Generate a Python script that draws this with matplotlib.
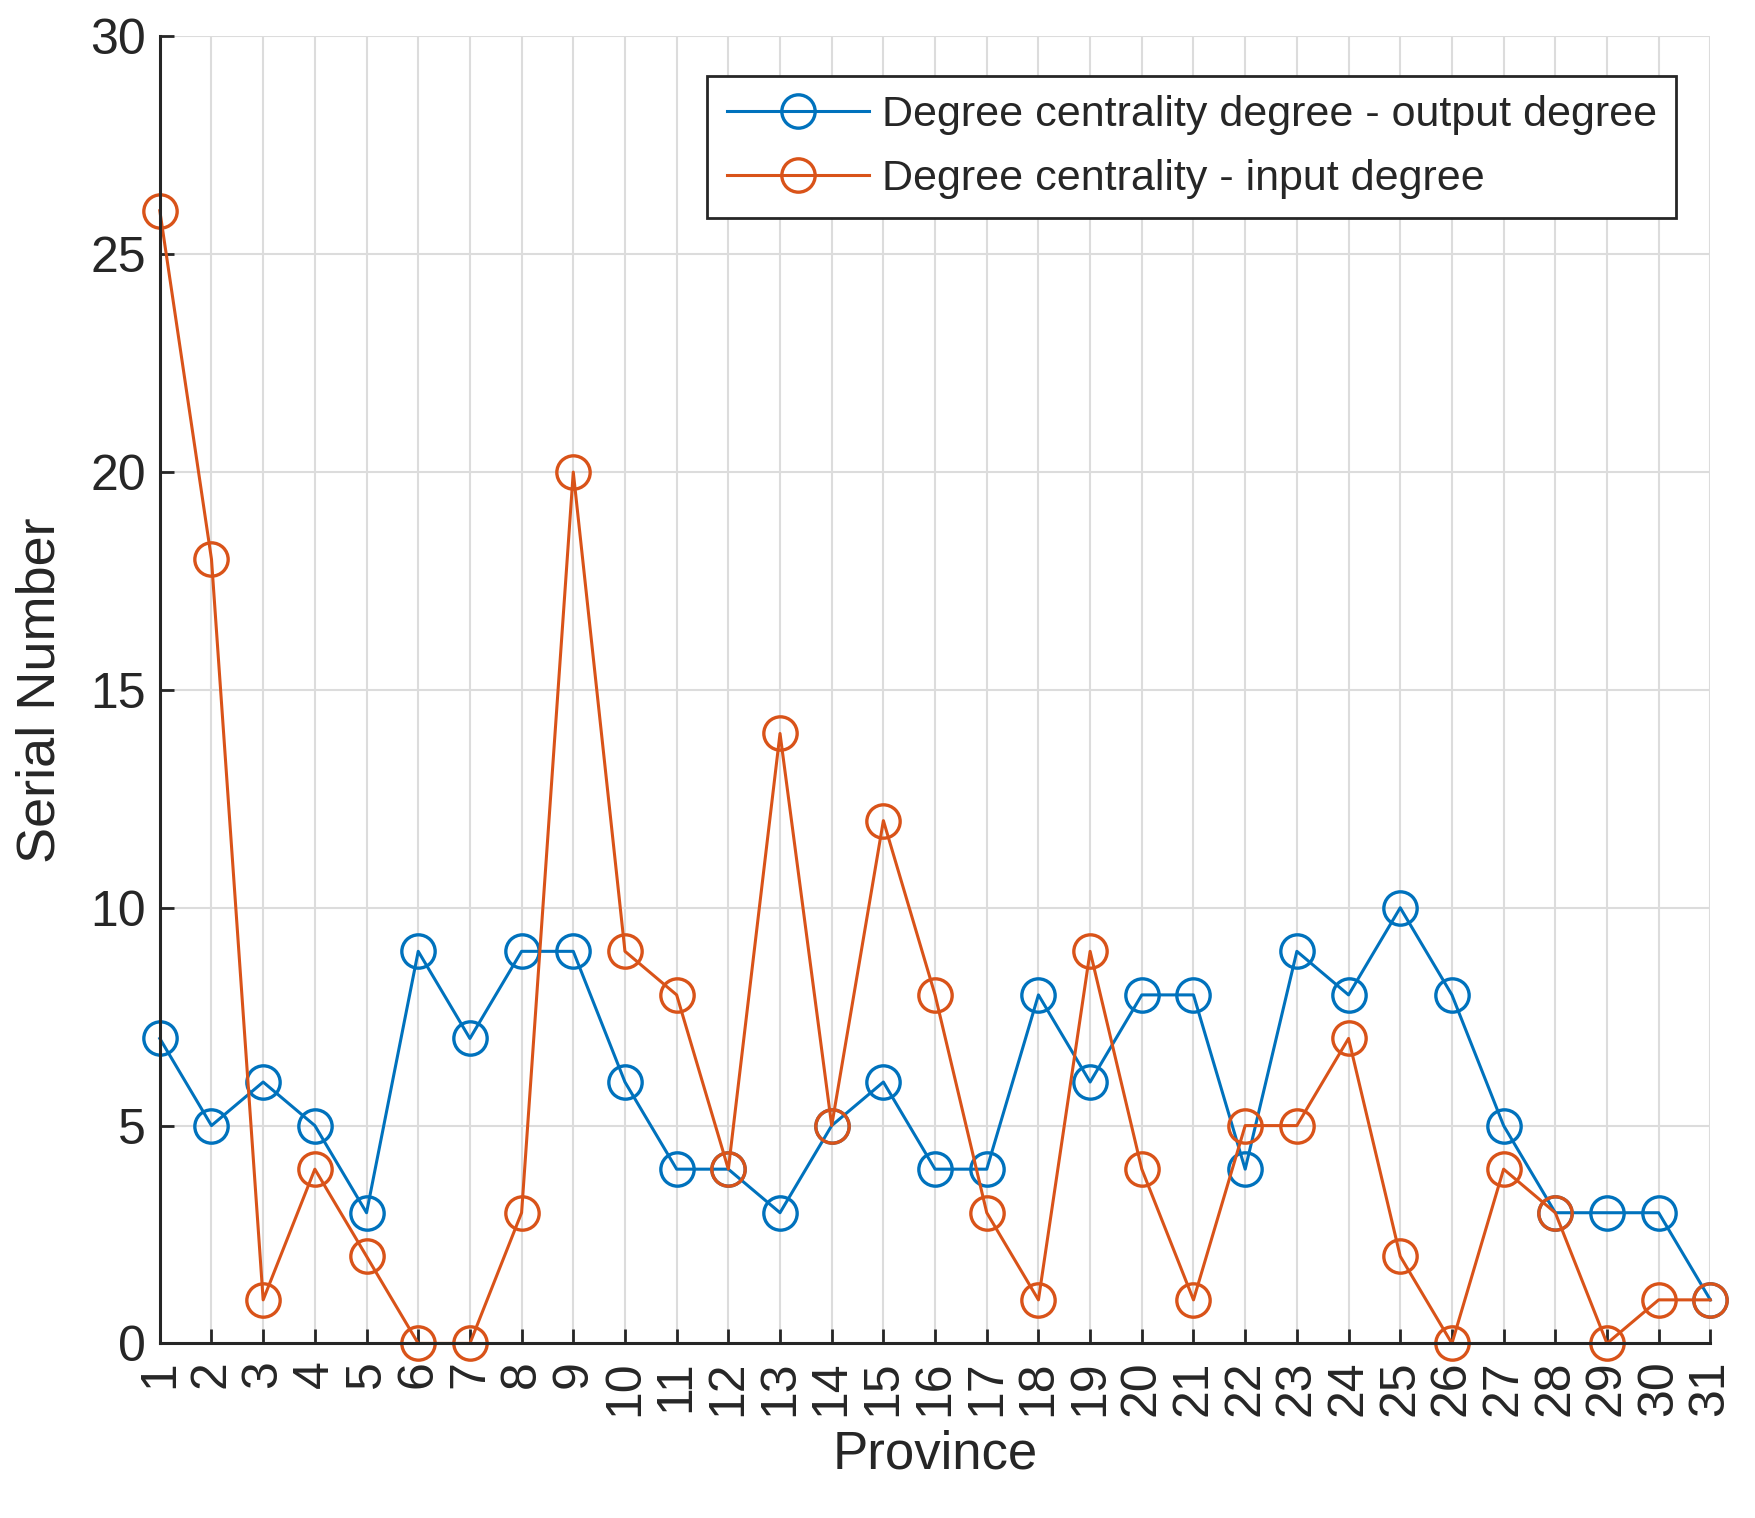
import matplotlib.pyplot as plt

plt.rcParams['font.family'] = ['Liberation Sans', 'DejaVu Sans']

# province index and the two degree series
provinces = list(range(1, 32))
out_degree = [7, 5, 6, 5, 3, 9, 7, 9, 9, 6, 4, 4, 3, 5, 6, 4, 4, 8, 6, 8, 8, 4, 9, 8, 10, 8, 5, 3, 3, 3, 1]
in_degree = [26, 18, 1, 4, 2, 0, 0, 3, 20, 9, 8, 4, 14, 5, 12, 8, 3, 1, 9, 4, 1, 5, 5, 7, 2, 0, 4, 3, 0, 1, 1]
y_ticks = [0, 5, 10, 15, 20, 25, 30]

blue = '#0072BD'
orange = '#D95319'
text_col = '#262626'

fig = plt.figure(figsize=(17.56, 15.18), dpi=100)
ax = fig.add_axes([0.091, 0.115, 0.883, 0.861])

ax.plot(provinces, out_degree, '-o', color=blue, lw=2.2, ms=24, mew=2.4,
        mfc='none', clip_on=False, label='Degree centrality degree - output degree')
ax.plot(provinces, in_degree, '-o', color=orange, lw=2.2, ms=24, mew=2.4,
        mfc='none', clip_on=False, label='Degree centrality - input degree')

ax.set_xlim(1, 31)
ax.set_ylim(0, 30)
ax.set_xticks(provinces)
ax.set_xticklabels([str(p) for p in provinces], rotation=90)
ax.set_yticks(y_ticks)

ax.grid(True, color='#dcdcdc', lw=1.5)
ax.set_axisbelow(True)
for s in ['top', 'right']:
    ax.spines[s].set_visible(False)
for s in ['left', 'bottom']:
    ax.spines[s].set_linewidth(2.2)
    ax.spines[s].set_color(text_col)

ax.tick_params(direction='in', length=10, width=2, colors=text_col, labelsize=36)
ax.tick_params(axis='x', pad=12)
ax.tick_params(axis='y', pad=10)

ax.set_xlabel('Province', fontsize=38, color=text_col, labelpad=10)
ax.set_ylabel('Serial Number', fontsize=39, color=text_col, labelpad=18)

leg = ax.legend(loc='upper right', bbox_to_anchor=(0.978, 0.97), fontsize=31,
                handlelength=3.3, fancybox=False, framealpha=1, borderpad=0.45,
                labelspacing=0.55, handletextpad=0.3, borderaxespad=0)
leg.get_frame().set_edgecolor(text_col)
leg.get_frame().set_linewidth(2)
for t in leg.get_texts():
    t.set_color(text_col)

fig.savefig('out.png', dpi=100)
